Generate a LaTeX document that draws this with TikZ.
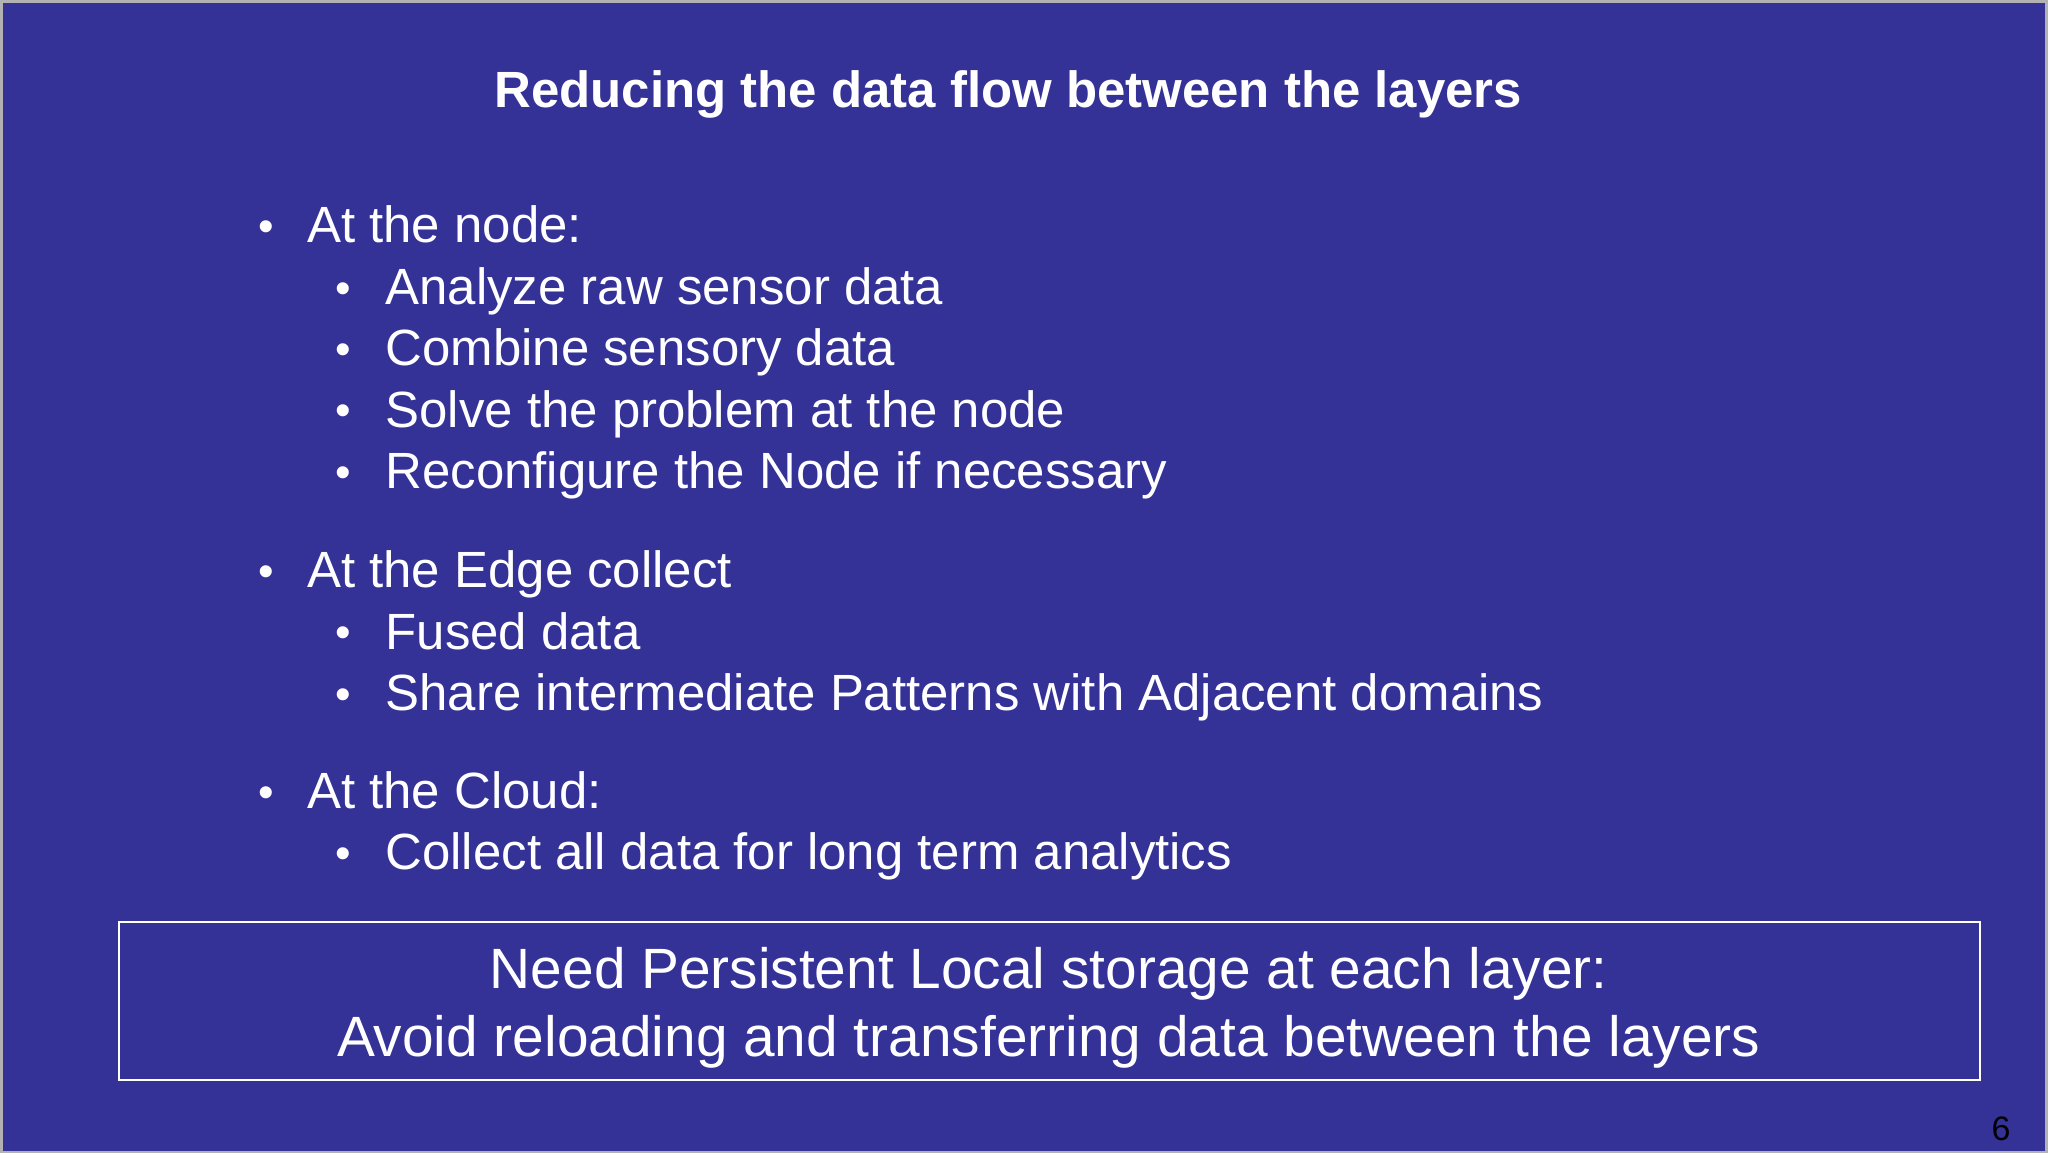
\documentclass[tikz,border=0pt]{standalone}
\usepackage{fontspec}
\setmainfont{Liberation Sans}
\begin{document}
\begin{tikzpicture}[x=1pt,y=-1pt,
  txt/.style={anchor=base west,inner sep=0pt,text=white,font=\fontsize{39}{46}\selectfont},
  bul/.style={anchor=base west,inner sep=0pt,text=white,font=\fontsize{34}{40}\selectfont}]
\fill[gray!60] (0,0) rectangle (1568,883);
\fill[fill={rgb,255:red,52;green,50;blue,151}] (2,2) rectangle (1566,881);
\useasboundingbox (0,0) rectangle (1568,883);
\node[anchor=base,inner sep=0pt,text=white,font=\fontsize{39}{46}\selectfont\bfseries] (title) at (772,82) {Reducing the data flow between the layers};
\foreach \y/\t [count=\i] in {186/At the node:,450/At the Edge collect,619/At the Cloud:}{
  \node[bul] (b\i) at (198,\y-1) {•};
  \node[txt] (t\i) at (235,\y) {\t};
}
\foreach \y/\t [count=\i] in {233/Analyze raw sensor data,280/Combine sensory data,327/Solve the problem at the node,374/Reconfigure the Node if necessary,497/Fused data,544/Share intermediate Patterns with Adjacent domains,666/Collect all data for long term analytics}{
  \node[bul] (sb\i) at (257,\y-1) {•};
  \node[txt] (s\i) at (295,\y) {\t};
}
\node[draw=white,line width=1.2pt,minimum width=1425,minimum height=121,inner sep=0pt] (box) at (803.5,766.5) {};
\node[txt,anchor=base,font=\fontsize{43.5}{50}\selectfont] (l1) at (803,757) {Need Persistent Local storage at each layer:};
\node[txt,anchor=base,font=\fontsize{43.5}{50}\selectfont] (l2) at (803,809) {Avoid reloading and transferring data between the layers};
\node[anchor=base,inner sep=0pt,font=\fontsize{26}{30}\selectfont] (pg) at (1532,873) {6};
\end{tikzpicture}
\end{document}
